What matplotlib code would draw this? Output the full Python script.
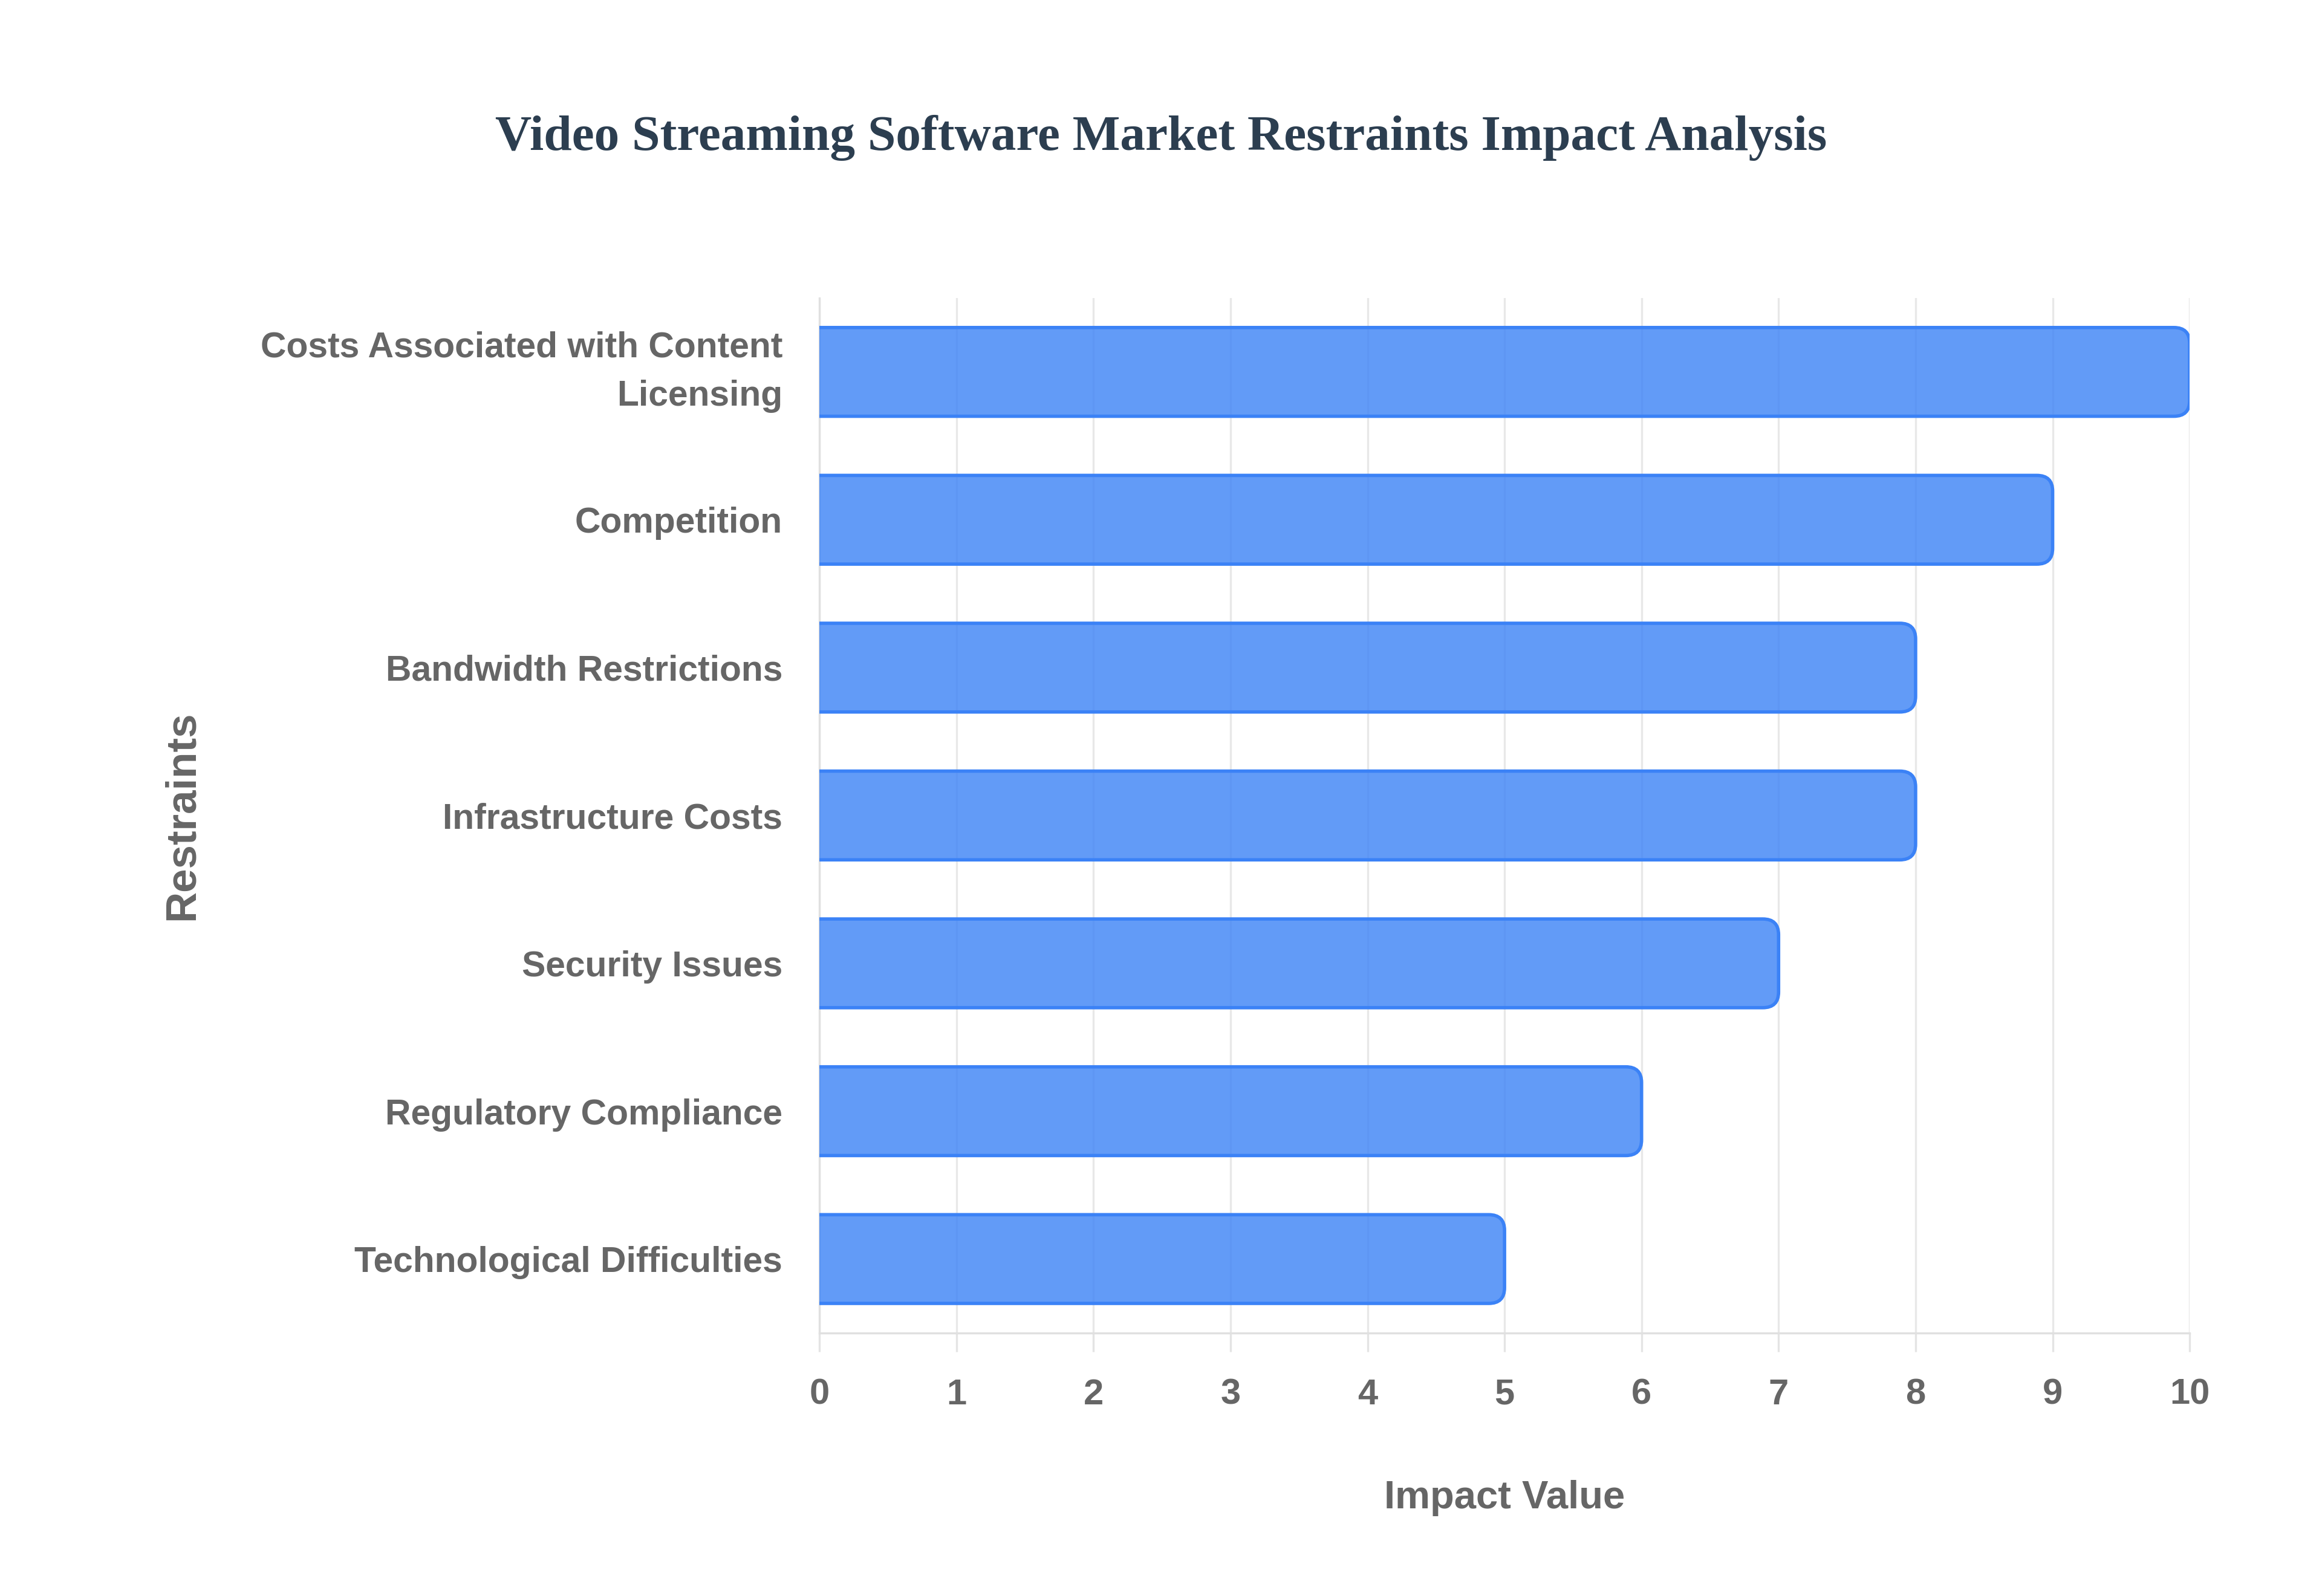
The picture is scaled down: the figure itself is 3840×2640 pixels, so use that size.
import matplotlib
matplotlib.use("Agg")
import matplotlib.pyplot as plt
from matplotlib.patches import FancyBboxPatch

# restraints, top to bottom
restraints = [
    "Costs Associated with Content\nLicensing",
    "Competition",
    "Bandwidth Restrictions",
    "Infrastructure Costs",
    "Security Issues",
    "Regulatory Compliance",
    "Technological Difficulties",
]
impact = [10, 9, 8, 8, 7, 6, 5]
x_ticks = [0, 1, 2, 3, 4, 5, 6, 7, 8, 9, 10]

sans = ["Liberation Sans", "DejaVu Sans"]
serif = ["Liberation Serif", "DejaVu Serif"]
gray = "#666666"

fig = plt.figure(figsize=(19.2, 13.2), dpi=200)
ax = fig.add_axes([0.3529, 0.1648, 0.5901, 0.6485])

ax.set_xlim(0, 10)
ax.set_ylim(len(restraints) - 0.5, -0.5)

# draw bars with matplotlib, then swap them for rounded ones
bars = ax.barh(range(len(restraints)), impact, height=0.6)
pos = ax.get_position()
px_x = pos.width * fig.get_figwidth() * fig.dpi / 10
px_y = pos.height * fig.get_figheight() * fig.dpi / len(restraints)
r_px = 26
for b in bars:
    x, y, w, h = b.get_x(), b.get_y(), b.get_width(), b.get_height()
    b.remove()
    # start left of zero so the left corners get clipped away
    p = FancyBboxPatch((x - 0.5, y), w + 0.5, h,
                       boxstyle="round,pad=0,rounding_size=%f" % (r_px / px_x),
                       mutation_aspect=px_x / px_y,
                       facecolor=(59/255, 130/255, 246/255, 0.8),
                       edgecolor="#3b82f6", linewidth=2.0, zorder=3)
    ax.add_patch(p)

ax.set_xticks(x_ticks)
ax.set_yticks(range(len(restraints)))
ax.set_yticklabels(restraints, fontfamily=sans, fontweight="bold",
                   fontsize=21.2, color=gray, linespacing=1.6)
for lab in ax.get_yticklabels():
    if "\n" in lab.get_text():
        lab.set_verticalalignment("center")
for lab in ax.get_xticklabels():
    lab.set_fontfamily(sans)
    lab.set_fontweight("bold")
    lab.set_fontsize(21.5)
    lab.set_color(gray)

ax.tick_params(axis="y", length=0, pad=22)
ax.tick_params(axis="x", length=11, width=1.2, color="#e4e4e4", pad=16)

ax.set_axisbelow(True)
ax.xaxis.grid(True, color="#e8e8e8", linewidth=1.2)
for s in ["top", "right"]:
    ax.spines[s].set_visible(False)
for s in ["left", "bottom"]:
    ax.spines[s].set_color("#e0e0e0")
    ax.spines[s].set_linewidth(1.2)

fig.text(0.5, 0.9136, "Video Streaming Software Market Restraints Impact Analysis",
         ha="center", va="center", fontfamily=serif, fontweight="bold",
         fontsize=30, color="#2c3e50")
fig.text(0.6479, 0.0614, "Impact Value", ha="center", va="center",
         fontfamily=sans, fontweight="bold", fontsize=23.5, color=gray)
fig.text(0.0785, 0.4891, "Restraints", ha="center", va="center", rotation=90,
         fontfamily=sans, fontweight="bold", fontsize=25.5, color=gray)

fig.savefig("out.png", dpi=200, facecolor="white")
